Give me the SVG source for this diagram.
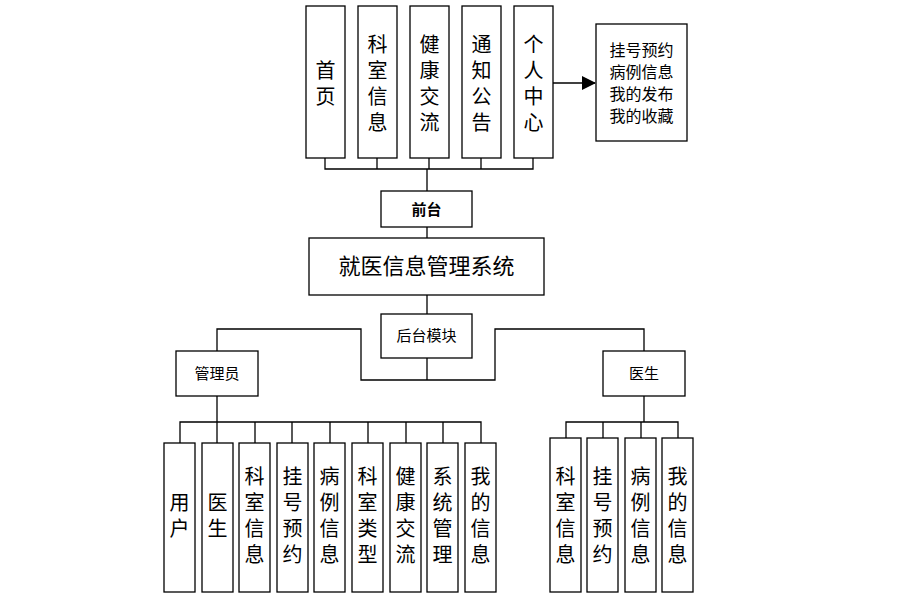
<svg xmlns="http://www.w3.org/2000/svg" width="917" height="608" viewBox="0 0 917 608">
<style>
rect{fill:#fff;stroke:#000;stroke-width:1.3}
.c path,.c line{fill:none;stroke:#000;stroke-width:1.3}
text{font-family:"Noto Sans CJK SC","Liberation Serif",sans-serif;text-anchor:middle;fill:#000}
.v{font-size:20px}
.s{font-size:15px}
</style>
<defs><marker id="a" markerWidth="14" markerHeight="14" refX="13" refY="7" orient="auto" markerUnits="userSpaceOnUse"><path d="M0,0L14,7L0,14z" fill="#000"/></marker></defs>
<g class="c">
<path d="M325,158V169H533V158M377,158V169M429,158V169M481,158V169M427,169V191M427,227V238M427,295V314M427,358V380"/>
<line x1="553" y1="83" x2="595" y2="83" stroke-width="2" marker-end="url(#a)"/>
<path d="M217,351V329H361V380H495V329H644V351"/>
<path d="M217,396V422M180,443V422H481V443M217,422V443M255,422V443M292,422V443M330,422V443M368,422V443M406,422V443M443,422V443"/>
<path d="M644,396V422M566,443V422H678V443M603,422V443M641,422V443"/>
</g>
<g id="n1"><rect x="306" y="6" width="39" height="152"/><text class="v" x="325.5"><tspan x="325.5" y="78">首</tspan><tspan x="325.5" y="104">页</tspan></text></g>
<g id="n2"><rect x="358" y="6" width="39" height="152"/><text class="v"><tspan x="377.5" y="52">科</tspan><tspan x="377.5" y="78">室</tspan><tspan x="377.5" y="104">信</tspan><tspan x="377.5" y="130">息</tspan></text></g>
<g id="n3"><rect x="410" y="6" width="39" height="152"/><text class="v"><tspan x="429.5" y="52">健</tspan><tspan x="429.5" y="78">康</tspan><tspan x="429.5" y="104">交</tspan><tspan x="429.5" y="130">流</tspan></text></g>
<g id="n4"><rect x="462" y="6" width="39" height="152"/><text class="v"><tspan x="481.5" y="52">通</tspan><tspan x="481.5" y="78">知</tspan><tspan x="481.5" y="104">公</tspan><tspan x="481.5" y="130">告</tspan></text></g>
<g id="n5"><rect x="514" y="6" width="39" height="152"/><text class="v"><tspan x="533.5" y="52">个</tspan><tspan x="533.5" y="78">人</tspan><tspan x="533.5" y="104">中</tspan><tspan x="533.5" y="130">心</tspan></text></g>
<g id="n6"><rect x="596" y="24" width="91" height="117"/><text font-size="16"><tspan x="641.5" y="56">挂号预约</tspan><tspan x="641.5" y="78">病例信息</tspan><tspan x="641.5" y="100">我的发布</tspan><tspan x="641.5" y="122">我的收藏</tspan></text></g>
<g id="n7"><rect x="381" y="191" width="91" height="36"/><text class="s" x="426.5" y="215" font-weight="bold">前台</text></g>
<g id="n8"><rect x="309" y="238" width="235" height="57"/><text x="426.5" y="274" font-size="22">就医信息管理系统</text></g>
<g id="n9"><rect x="381" y="314" width="91" height="44"/><text class="s" x="426.5" y="341">后台模块</text></g>
<g id="n10"><rect x="176" y="351" width="82" height="45"/><text class="s" x="217" y="379">管理员</text></g>
<g id="n11"><rect x="603" y="351" width="82" height="45"/><text class="s" x="644" y="379">医生</text></g>
<g id="n12"><rect x="164" y="443" width="31" height="149"/><text class="v"><tspan x="179.5" y="510">用</tspan><tspan x="179.5" y="536">户</tspan></text></g>
<g id="n13"><rect x="202" y="443" width="31" height="149"/><text class="v"><tspan x="217.5" y="510">医</tspan><tspan x="217.5" y="536">生</tspan></text></g>
<g id="n14"><rect x="239" y="443" width="31" height="149"/><text class="v"><tspan x="254.5" y="484">科</tspan><tspan x="254.5" y="510">室</tspan><tspan x="254.5" y="536">信</tspan><tspan x="254.5" y="562">息</tspan></text></g>
<g id="n15"><rect x="277" y="443" width="31" height="149"/><text class="v"><tspan x="292.5" y="484">挂</tspan><tspan x="292.5" y="510">号</tspan><tspan x="292.5" y="536">预</tspan><tspan x="292.5" y="562">约</tspan></text></g>
<g id="n16"><rect x="314" y="443" width="31" height="149"/><text class="v"><tspan x="329.5" y="484">病</tspan><tspan x="329.5" y="510">例</tspan><tspan x="329.5" y="536">信</tspan><tspan x="329.5" y="562">息</tspan></text></g>
<g id="n17"><rect x="352" y="443" width="31" height="149"/><text class="v"><tspan x="367.5" y="484">科</tspan><tspan x="367.5" y="510">室</tspan><tspan x="367.5" y="536">类</tspan><tspan x="367.5" y="562">型</tspan></text></g>
<g id="n18"><rect x="390" y="443" width="31" height="149"/><text class="v"><tspan x="405.5" y="484">健</tspan><tspan x="405.5" y="510">康</tspan><tspan x="405.5" y="536">交</tspan><tspan x="405.5" y="562">流</tspan></text></g>
<g id="n19"><rect x="427" y="443" width="31" height="149"/><text class="v"><tspan x="442.5" y="484">系</tspan><tspan x="442.5" y="510">统</tspan><tspan x="442.5" y="536">管</tspan><tspan x="442.5" y="562">理</tspan></text></g>
<g id="n20"><rect x="465" y="443" width="31" height="149"/><text class="v"><tspan x="480.5" y="484">我</tspan><tspan x="480.5" y="510">的</tspan><tspan x="480.5" y="536">信</tspan><tspan x="480.5" y="562">息</tspan></text></g>
<g id="n21"><rect x="550" y="438" width="31" height="154"/><text class="v"><tspan x="565.5" y="484">科</tspan><tspan x="565.5" y="510">室</tspan><tspan x="565.5" y="536">信</tspan><tspan x="565.5" y="562">息</tspan></text></g>
<g id="n22"><rect x="587" y="438" width="31" height="154"/><text class="v"><tspan x="602.5" y="484">挂</tspan><tspan x="602.5" y="510">号</tspan><tspan x="602.5" y="536">预</tspan><tspan x="602.5" y="562">约</tspan></text></g>
<g id="n23"><rect x="625" y="438" width="31" height="154"/><text class="v"><tspan x="640.5" y="484">病</tspan><tspan x="640.5" y="510">例</tspan><tspan x="640.5" y="536">信</tspan><tspan x="640.5" y="562">息</tspan></text></g>
<g id="n24"><rect x="662" y="438" width="31" height="154"/><text class="v"><tspan x="677.5" y="484">我</tspan><tspan x="677.5" y="510">的</tspan><tspan x="677.5" y="536">信</tspan><tspan x="677.5" y="562">息</tspan></text></g>
</svg>
